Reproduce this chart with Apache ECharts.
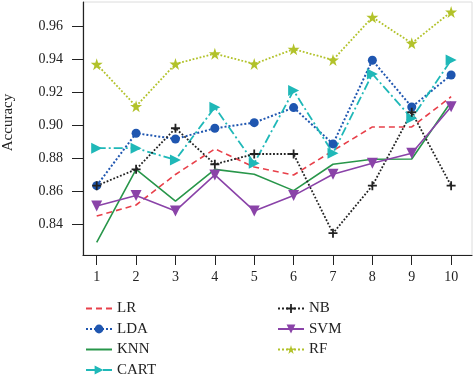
<!DOCTYPE html>
<html><head><meta charset="utf-8">
<script src="https://cdn.jsdelivr.net/npm/echarts@6/dist/echarts.min.js"></script>
<style>html,body{margin:0;padding:0;background:#fff}#c{width:474px;height:379px}</style>
</head><body><div id="c"></div>
<script>
const xs = [1,2,3,4,5,6,7,8,9,10];
const yTicks = [0.84,0.86,0.88,0.90,0.92,0.94,0.96];
const LR   = [0.8448,0.8515,0.8700,0.8855,0.8745,0.8697,0.8844,0.8988,0.8988,0.9171];
const LDA  = [0.8632,0.8950,0.8915,0.8980,0.9014,0.9105,0.8885,0.9392,0.9109,0.9303];
const KNN  = [0.8289,0.8731,0.8539,0.8731,0.8701,0.8602,0.8762,0.8792,0.8794,0.9141];
const CART = [0.8859,0.8859,0.8788,0.9107,0.8768,0.9208,0.8829,0.9309,0.9040,0.9394];
const NB   = [0.8632,0.8731,0.8980,0.8762,0.8824,0.8824,0.8344,0.8632,0.9077,0.8632];
const SVM  = [0.8509,0.8572,0.8479,0.8697,0.8479,0.8572,0.8701,0.8768,0.8829,0.9110];
const RF   = [0.9368,0.9113,0.9370,0.9432,0.9370,0.9459,0.9394,0.9653,0.9495,0.9685];

const FONT = '"Liberation Serif","DejaVu Serif",serif';
const plus = 'path://M4,0h2v4h4v2h-4v4h-2v-4h-4v-2h4z';
const star = 'path://M50,0L61,35H98L68,57L79,91L50,70L21,91L32,57L2,35H39Z';
function pair(arr){ return xs.map((x,i)=>[x,arr[i]]); }
function mk(name, data, color, lineType, symbol, size, width){
  return {name, type:'line', data:pair(data), symbol: symbol||'none', symbolSize:size||0,
    showSymbol: !!symbol,
    lineStyle:{color, type:lineType, width:width||1.6},
    itemStyle:{color}, z:2};
}
const series = [
  mk('LR', LR, '#e8404a', [6,4], null, 0, 1.6),
  mk('LDA', LDA, '#1f56b0', 'dotted', 'circle', 9, 2),
  mk('KNN', KNN, '#28964a', 'solid', null, 0, 1.6),
  mk('CART', CART, '#1fb8b8', [9,3,2,3], 'triangle', 11, 1.8),
  mk('NB', NB, '#222222', 'dotted', plus, 9, 1.8),
  mk('SVM', SVM, '#8a43a8', 'solid', 'triangle', 11, 1.6),
  mk('RF', RF, '#b2c22a', 'dotted', star, 12, 1.8)
];
series[3].symbolRotate = -90;
series[5].symbolRotate = 180;

const chart = echarts.init(document.getElementById('c'));
const legendBase = {orient:'vertical', itemWidth:26, itemHeight:11, itemGap:5.5, height:100,
  textStyle:{fontFamily:FONT, fontSize:15, color:'#222'}};
const noIcon = {opacity:0};
chart.setOption({
  animation:false,
  grid:{left:83, right:2, top:2, bottom:124, show:true, borderColor:'#dcdcdc', borderWidth:1,
    containLabel:false, outerBoundsMode:'none'},
  xAxis:{type:'value', min:0.652, max:10.53,
    axisLine:{show:true, onZero:false, lineStyle:{color:'#222', width:1.2}},
    axisTick:{show:true, inside:false, length:10, customValues:xs, lineStyle:{color:'#222'}},
    axisLabel:{customValues:xs, fontFamily:FONT, fontSize:14, color:'#222', margin:15},
    splitLine:{show:false}},
  yAxis:{type:'value', min:0.8212, max:0.9745,
    name:'Accuracy', nameLocation:'middle', nameGap:67, nameRotate:90,
    nameTextStyle:{fontFamily:FONT, fontSize:15, color:'#222', padding:[0,0,0,12]},
    axisLine:{show:true, onZero:false, lineStyle:{color:'#222', width:1.2}},
    axisTick:{show:true, length:11, customValues:yTicks, lineStyle:{color:'#222'}},
    axisLabel:{customValues:yTicks, fontFamily:FONT, fontSize:14, color:'#222', margin:20,
      formatter:v=>v.toFixed(2)},
    splitLine:{show:false}},
  legend:[
    Object.assign({left:80, top:296, data:[{name:'LR', itemStyle:noIcon},'LDA',{name:'KNN', itemStyle:noIcon},'CART']}, legendBase),
    Object.assign({left:272, top:296, data:['NB','SVM','RF']}, legendBase)
  ],
  series
});
</script></body></html>
